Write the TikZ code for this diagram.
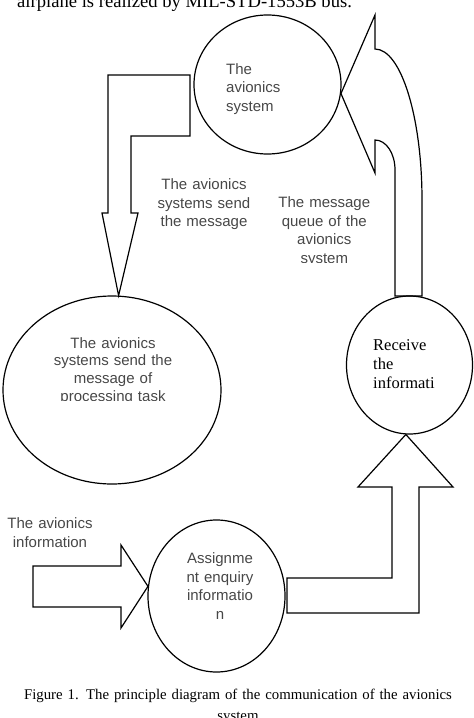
\documentclass[tikz,border=0pt]{standalone}
\usepackage{fontspec}
\setmainfont{Liberation Serif}
\setsansfont{Liberation Sans}
\usetikzlibrary{shapes.geometric}
\definecolor{labelgray}{HTML}{474747}
\tikzset{
  blob/.style={ellipse, draw, line width=1.2pt, inner sep=0pt},
  blockarrow/.style={draw, line width=1.2pt, line join=miter},
  graylabel/.style={inner sep=0pt, text=labelgray, font={\sffamily\fontsize{15pt}{18.7pt}\selectfont}},
  serifcirc/.style={inner sep=0pt, font={\rmfamily\fontsize{16.5pt}{19pt}\selectfont}},
}
\begin{document}
\begin{tikzpicture}[x=1pt, y=-1pt]
    \useasboundingbox (0,0) rectangle (474,718);
    % the four processing circles
    \node[blob, minimum width=147pt, minimum height=139pt] (sys) at (267.5,84.5) {};
    \node[blob, minimum width=218pt, minimum height=188pt] (task) at (112,390) {};
    \node[blob, minimum width=126pt, minimum height=138pt] (recv) at (409.5,365) {};
    \node[blob, minimum width=137pt, minimum height=152pt] (asg) at (216.5,596) {};
    % texts inside the circles
    \node[graylabel, anchor=base west, text width=100pt, align=left] (systext) at (226,74) {The\\avionics\\system};
    \begin{scope}
        \clip (0,0) rectangle (474,400);
        \node[graylabel, font={\sffamily\fontsize{15pt}{17.7pt}\selectfont}, anchor=base, text width=160pt, align=center] (tasktext) at (113,348) {The avionics\\systems send the\\message of\\processing task};
    \end{scope}
    \node[serifcirc, anchor=base west, text width=80pt, align=left] (recvtext) at (373,350) {Receive\\the\\informati};
    \node[graylabel, anchor=base, text width=100pt, align=center] (asgtext) at (220,563.3) {Assignme\\nt enquiry\\informatio\\n};
    % labels next to the arrows
    \node[graylabel, anchor=base, text width=120pt, align=center] (sendtext) at (204,189.3) {The avionics\\systems send\\the message};
    \begin{scope}
        \clip (0,0) rectangle (474,262.7);
        \node[graylabel, anchor=base, text width=120pt, align=center] (queuetext) at (324.3,207.3) {The message\\queue of the\\avionics\\system};
    \end{scope}
    \node[graylabel, anchor=base, text width=100pt, align=center] (infotext) at (50,528.3) {The avionics\\information};
    % block arrows
    \draw[blockarrow] (task.86) -- (102,213) -- (108,213) -- (108,75) -- (190,75) -- (190,136)
        -- (131,136) -- (131,213) -- (138,213) -- cycle;
    \draw[blockarrow] (sys.-7) -- (375,15) -- (375,49) .. controls (401,49) and (422,117) .. (422,200)
        -- (422,296) -- (395,296) -- (395,170) .. controls (395,153) and (386,140) .. (375,140)
        -- (375,173) -- cycle;
    \draw[blockarrow] (recv.-93) -- (453,487) -- (419,487) -- (419,613) -- (287,613) -- (287,578)
        -- (392,578) -- (392,487) -- (358,487) -- cycle;
    \draw[blockarrow] (asg.172) -- (121,545) -- (121,566) -- (33,566) -- (33,607) -- (121,607)
        -- (121,628) -- cycle;
    % running text above and caption below
    \node[inner sep=0pt, anchor=base west, font={\rmfamily\fontsize{18.6pt}{22pt}\selectfont}] (heading) at (17,7.5) {airplane is realized by MIL-STD-1553B bus.};
    \node[inner sep=0pt, anchor=base, text width=460pt, align=center, font={\rmfamily\fontsize{14.8pt}{21pt}\selectfont}] (caption) at (238,699) {Figure 1. The principle diagram of the communication of the avionics\\system};
\end{tikzpicture}
\end{document}
